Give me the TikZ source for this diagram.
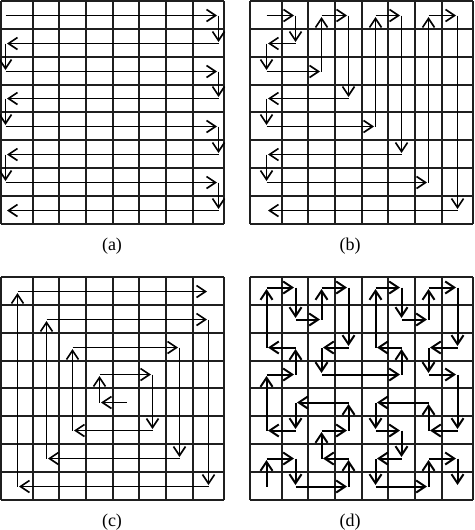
\documentclass[tikz,border=0pt]{standalone}
\usepackage{fontspec}
\setmainfont{Liberation Serif}
\usetikzlibrary{arrows.meta}

\tikzset{
  gridline/.style={line width=2pt, draw=black!88},
  scan/.style={line width=1.6pt, -{Straight Barb[length=9pt,width=12pt]}, shorten >=1.5pt},
  panellabel/.style={font=\fontsize{18}{20}\selectfont}
}

% edges of the columns and rows of every grid (outer columns a bit wider)
\newcommand{\colx}{{0,32,58,85,112,138,165,192,223}}
\newcommand{\rowy}{{0,28,56,84,111,139,167,195,223}}

% 8x8 grid, with a named coordinate in the middle of every cell
\newcommand{\scangrid}[1]{%
  \foreach \k in {0,...,8} {
    \pgfmathsetmacro{\xk}{\colx[\k]}
    \pgfmathsetmacro{\yk}{\rowy[\k]}
    \draw[gridline] (\xk,0) -- (\xk,223);
    \draw[gridline] (0,\yk) -- (223,\yk);
  }
  \foreach \i in {1,...,8} {
    \pgfmathtruncatemacro{\ip}{\i-1}
    \pgfmathsetmacro{\xa}{\colx[\ip]}
    \pgfmathsetmacro{\xb}{\colx[\i]}
    \pgfmathsetmacro{\ya}{\rowy[\ip]}
    \pgfmathsetmacro{\yb}{\rowy[\i]}
    \pgfmathsetmacro{\xc}{floor((\xa+\xb)/2)+0.5}
    \pgfmathsetmacro{\yc}{floor((\ya+\yb)/2)+0.5}
    \coordinate (#1-col-\i) at (\xc,0);
    \coordinate (#1-row-\i) at (0,\yc);
  }
  \foreach \i in {1,...,8} {
    \foreach \j in {1,...,8} {
      \coordinate (#1-\i-\j) at (#1-col-\i |- #1-row-\j);
    }
  }
}

% arrows from cell to cell along a list of cells
\newcommand{\scanpath}[3][]{%
  \foreach \c [count=\n, remember=\c as \last] in {#3} {
    \ifnum\n>1 \draw[scan,#1] (#2-\last) -- (#2-\c); \fi
  }
}

\begin{document}
\begin{tikzpicture}[x=1pt,y=-1pt]
    \useasboundingbox (0,0) rectangle (474,530);

    % (a) row by row, turning at the sides
    \begin{scope}[shift={(1,1)}]
        \scangrid{a}
        \foreach \j in {1,...,8} {
            \coordinate (a-L-\j) at ([xshift=4.5pt]a-row-\j);
            \coordinate (a-R-\j) at ([xshift=217.5pt]a-row-\j);
        }
        \scanpath{a}{L-1,R-1,R-2,L-2,L-3,R-3,R-4,L-4,L-5,R-5,R-6,L-6,L-7,R-7,R-8,L-8}
    \end{scope}

    % (b) growing squares from the top left corner
    \begin{scope}[shift={(250,1)}]
        \scangrid{b}
        \scanpath{b}{1-1,2-1,2-2,1-2,1-3,3-3,3-1,4-1,4-4,1-4,1-5,5-5,5-1,6-1,6-6,1-6,1-7,7-7,7-1,8-1,8-8,1-8}
    \end{scope}

    % (c) spiral out of the middle
    \begin{scope}[shift={(1,277)}]
        \scangrid{c}
        \scanpath{c}{5-5,4-5,4-4,6-4,6-6,3-6,3-3,7-3,7-7,2-7,2-2,8-2,8-8,1-8,1-1,8-1}
    \end{scope}

    % (d) curve through the blocks
    \begin{scope}[shift={(250,277)}]
        \scangrid{d}
        % top row of arrows sits a little higher
        \foreach \i in {1,...,8} {
            \coordinate (d-\i-1) at ([yshift=4pt]d-\i-1);
        }
        \scanpath[line width=2pt]{d}{1-8,1-7,2-7,2-8,4-8,4-7,3-7,3-6,4-6,4-5,2-5,2-6,1-6,1-4,2-4,2-3,1-3,1-1,2-1,2-2,3-2,3-1,4-1,4-3,3-3,3-4,6-4,6-3,5-3,5-1,6-1,6-2,7-2,7-1,8-1,8-3,7-3,7-4,8-4,8-6,7-6,7-5,5-5,5-6,6-6,6-7,5-7,5-8,7-8,7-7,8-7,8-8}
    \end{scope}

    % panel labels
    \node[panellabel] (lab-a) at (112,246) {(a)};
    \node[panellabel] (lab-b) at (350,246) {(b)};
    \node[panellabel] (lab-c) at (112,522) {(c)};
    \node[panellabel] (lab-d) at (350,522) {(d)};

\end{tikzpicture}
\end{document}
